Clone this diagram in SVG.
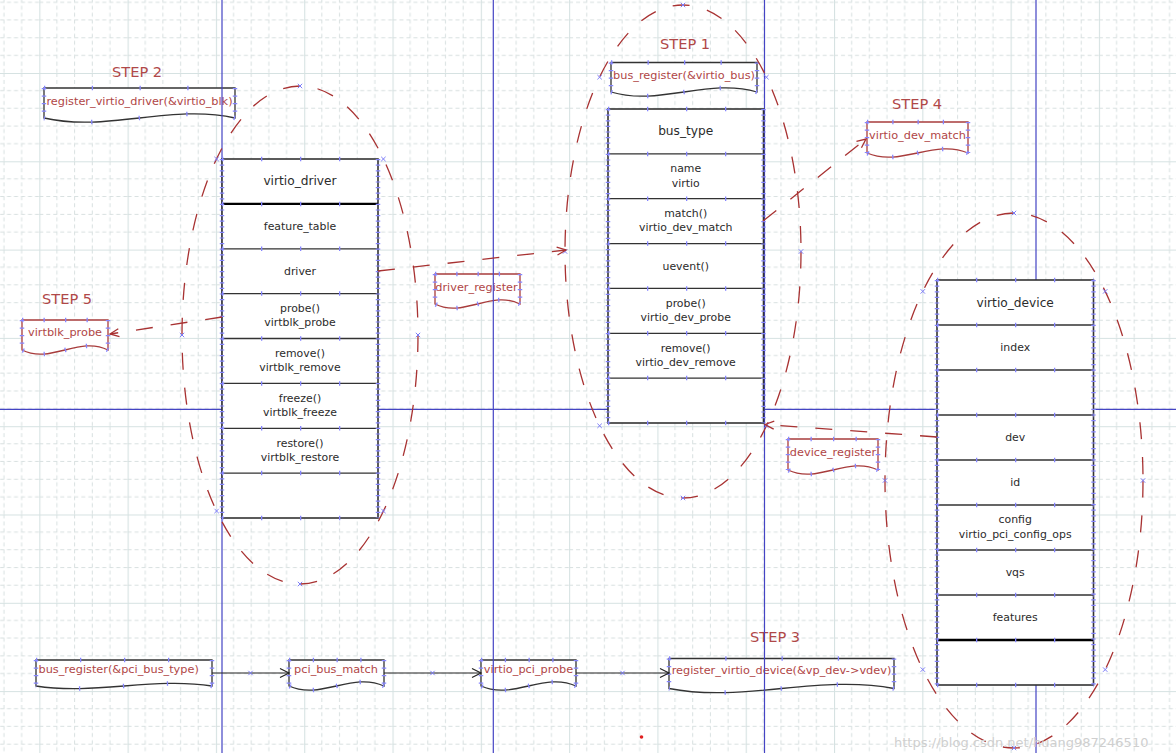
<svg xmlns="http://www.w3.org/2000/svg" width="1176" height="753" viewBox="0 0 1176 753">
<defs>
<pattern id="grid" patternUnits="userSpaceOnUse" x="39.3" y="73" width="88.3" height="88.3">
<path d="M17.66 0V88.3M35.32 0V88.3M52.98 0V88.3M70.64 0V88.3M0 17.66H88.3M0 35.32H88.3M0 52.98H88.3M0 70.64H88.3" stroke="#d8e0e0" stroke-width="1" stroke-dasharray="4 3" fill="none"/>
<path d="M0.5 0V88.3M0 0.5H88.3" stroke="#d6e2e2" stroke-width="1.2" fill="none"/>
</pattern>
<marker id="ak" markerUnits="userSpaceOnUse" markerWidth="11" markerHeight="11" viewBox="0 0 11 11" refX="10" refY="5.5" orient="auto" overflow="visible">
<path d="M1 1L10 5.5L1 10" fill="none" stroke="#222" stroke-width="1.2"/>
</marker>
<marker id="ar" markerUnits="userSpaceOnUse" markerWidth="11" markerHeight="11" viewBox="0 0 11 11" refX="10" refY="5.5" orient="auto" overflow="visible">
<path d="M1 1.5L10 5.5L1 9.5" fill="none" stroke="#a83232" stroke-width="1.3"/>
</marker>
<marker id="cx" markerUnits="userSpaceOnUse" markerWidth="6" markerHeight="6" viewBox="0 0 6 6" refX="3" refY="3" overflow="visible">
<path d="M0.8 0.8L5.2 5.2M5.2 0.8L0.8 5.2" stroke="#7c7cf8" stroke-width="1"/>
</marker>
</defs>
<style>
.t{font-family:"DejaVu Sans","Liberation Sans",sans-serif}
.hd{font-size:12.2px;fill:#2b2b2b;text-anchor:middle}
.bd{font-size:10.9px;fill:#2b2b2b;text-anchor:middle}
.dt{font-size:11.3px;fill:#b04646;text-anchor:middle}
.st{font-size:14.6px;fill:#b04848}
.wm{font-size:13px;fill:#cfcfcf}
.tb{fill:#fff;stroke:#333;stroke-width:1.6}
.sep{stroke:#333;stroke-width:1.3;fill:none}
.sepk{stroke:#000;stroke-width:2.4;fill:none}
.doc{fill:#fff;stroke:#333;stroke-width:1.3}
.docr{fill:#fff;stroke:#a83c3c;stroke-width:1.3}
.cps{stroke:#8686ff;stroke-width:4.5;stroke-dasharray:1.3 6.2;fill:none}
.cpt{stroke:#8686ff;stroke-width:4.5;fill:none}
.tside{stroke:#8686ff;stroke-width:4.5;stroke-dasharray:1.2 4.4;fill:none}
.trow{stroke:#8686ff;stroke-width:4.5;stroke-dasharray:1.3 37.7;fill:none}
.cpm{fill:none;stroke:none;marker-start:url(#cx);marker-mid:url(#cx);marker-end:url(#cx)}
.ell{fill:none;stroke:#a83232;stroke-width:1.3;stroke-dasharray:17 18}
.dcon{fill:none;stroke:#a83232;stroke-width:1.3;stroke-dasharray:17 18;marker-end:url(#ar)}
.scon{fill:none;stroke:#222;stroke-width:1.2;marker-mid:url(#cx);marker-end:url(#ak)}
.pb{stroke:#4444c4;stroke-width:1.2;fill:none}
</style>
<rect width="1176" height="753" fill="#fff"/>
<rect width="1176" height="753" fill="url(#grid)"/>

<g class="t st">
<text x="112" y="77">STEP 2</text>
<text x="660" y="49">STEP 1</text>
<text x="892" y="109">STEP 4</text>
<text x="42" y="304">STEP 5</text>
<text x="750" y="641.5">STEP 3</text>
</g>

<g id="register_virtio_driver">
<path class="doc" d="M44 88H235V118C171.3 103.5 107.7 132.5 44 118Z"/>
<text class="t dt" x="139.5" y="104.5">register_virtio_driver(&amp;virtio_blk)</text>
<path class="cpt" style="stroke-dasharray:1.3 46.45" d="M44 88H235M235 118C171.3 103.5 107.7 132.5 44 118"/>
<path class="cps" d="M44 88V118M235 88V118"/>
</g>
<g id="bus_register_virtio_bus">
<path class="doc" d="M611 62.5H757V92C708.3 77.5 659.7 106.5 611 92Z"/>
<text class="t dt" x="684" y="78.8">bus_register(&amp;virtio_bus)</text>
<path class="cpt" style="stroke-dasharray:1.3 35.2" d="M611 62.5H757M757 92C708.3 77.5 659.7 106.5 611 92"/>
<path class="cps" d="M611 62.5V92M757 62.5V92"/>
</g>
<g id="virtio_dev_match_box">
<path class="docr" d="M867 122H968V153C934.3 138.5 900.7 167.5 867 153Z"/>
<text class="t dt" x="917.5" y="138.5">virtio_dev_match</text>
<path class="cpt" style="stroke-dasharray:1.3 23.95" d="M867 122H968M968 153C934.3 138.5 900.7 167.5 867 153"/>
<path class="cps" d="M867 122V153M968 122V153"/>
</g>
<g id="driver_register">
<path class="docr" d="M435 274H520V304C491.7 289.5 463.3 318.5 435 304Z"/>
<text class="t dt" x="476.5" y="290.5">driver_register</text>
<path class="cpt" style="stroke-dasharray:1.3 19.95" d="M435 274H520M520 304C491.7 289.5 463.3 318.5 435 304"/>
<path class="cps" d="M435 274V304M520 274V304"/>
</g>
<g id="virtblk_probe_box">
<path class="docr" d="M22 320H108V350C79.3 335.5 50.7 364.5 22 350Z"/>
<text class="t dt" x="65" y="336">virtblk_probe</text>
<path class="cpt" style="stroke-dasharray:1.3 20.2" d="M22 320H108M108 350C79.3 335.5 50.7 364.5 22 350"/>
<path class="cps" d="M22 320V350M108 320V350"/>
</g>
<g id="device_register">
<path class="docr" d="M788 439H878V470C848 455.5 818 484.5 788 470Z"/>
<text class="t dt" x="833" y="455.5">device_register</text>
<path class="cpt" style="stroke-dasharray:1.3 21.2" d="M788 439H878M878 470C848 455.5 818 484.5 788 470"/>
<path class="cps" d="M788 439V470M878 439V470"/>
</g>
<g id="bus_register_pci">
<path class="doc" d="M36 660H212V686C153.3 677 94.7 695 36 686Z"/>
<text class="t dt" x="38.5" y="673" style="text-anchor:start">bus_register(&amp;pci_bus_type)</text>
<path class="cpt" style="stroke-dasharray:1.3 42.7" d="M36 660H212M212 686C153.3 677 94.7 695 36 686"/>
<path class="cps" d="M36 660V686M212 660V686"/>
</g>
<g id="pci_bus_match">
<path class="doc" d="M289 660H384V686C352.3 671.5 320.7 700.5 289 686Z"/>
<text class="t dt" x="336" y="673">pci_bus_match</text>
<path class="cpt" style="stroke-dasharray:1.3 22.45" d="M289 660H384M384 686C352.3 671.5 320.7 700.5 289 686"/>
<path class="cps" d="M289 660V686M384 660V686"/>
</g>
<g id="virtio_pci_probe">
<path class="doc" d="M481 660H576V686C544.3 671.5 512.7 700.5 481 686Z"/>
<text class="t dt" x="528.5" y="673">virtio_pci_probe</text>
<path class="cpt" style="stroke-dasharray:1.3 22.45" d="M481 660H576M576 686C544.3 671.5 512.7 700.5 481 686"/>
<path class="cps" d="M481 660V686M576 660V686"/>
</g>
<g id="register_virtio_device">
<path class="doc" d="M669 658.5H894V688.5C819 674 744 703 669 688.5Z"/>
<text class="t dt" x="781.5" y="673.5">register_virtio_device(&amp;vp_dev-&gt;vdev)</text>
<path class="cpt" style="stroke-dasharray:1.3 54.95" d="M669 658.5H894M894 688.5C819 674 744 703 669 688.5"/>
<path class="cps" d="M669 658.5V688.5M894 658.5V688.5"/>
</g>

<g id="page_breaks">
<path class="pb" d="M222 0V753M493.3 0V753M764.5 0V753M1036 0V753M0 409.3H1176"/>
</g>

<g id="virtio_driver">
<rect class="tb" x="222" y="159" width="156" height="359"/>
<path class="sep" d="M222 248.8H378M222 293.6H378M222 338.5H378M222 383.4H378M222 428.3H378M222 473.1H378"/>
<path class="sepk" d="M222 203.9H378"/>
<path class="trow" d="M222 159H378M222 203.9H378M222 248.8H378M222 293.6H378M222 338.5H378M222 383.4H378M222 428.3H378M222 473.1H378M222 518H378"/>
<path class="tside" d="M222 159V518M378 159V518"/>
<text class="t hd" x="300" y="185.4">virtio_driver</text>
<text class="t bd" x="300" y="230.1">feature_table</text>
<text class="t bd" x="300" y="275">driver</text>
<text class="t bd" x="300" y="312.2">probe()</text>
<text class="t bd" x="300" y="326.4">virtblk_probe</text>
<text class="t bd" x="300" y="357.1">remove()</text>
<text class="t bd" x="300" y="371.3">virtblk_remove</text>
<text class="t bd" x="300" y="402">freeze()</text>
<text class="t bd" x="300" y="416.1">virtblk_freeze</text>
<text class="t bd" x="300" y="446.8">restore()</text>
<text class="t bd" x="300" y="461">virtblk_restore</text>
</g>

<g id="bus_type">
<rect class="tb" x="608" y="109" width="155.5" height="314"/>
<path class="sep" d="M608 153.9H763.5M608 198.7H763.5M608 243.6H763.5M608 288.4H763.5M608 333.3H763.5M608 378.1H763.5"/>
<path class="trow" d="M608 109H763.5M608 153.9H763.5M608 198.7H763.5M608 243.6H763.5M608 288.4H763.5M608 333.3H763.5M608 378.1H763.5M608 423H763.5"/>
<path class="tside" d="M608 109V423M763.5 109V423"/>
<text class="t hd" x="685.7" y="135.4">bus_type</text>
<text class="t bd" x="685.7" y="172.3">name</text>
<text class="t bd" x="685.7" y="186.5">virtio</text>
<text class="t bd" x="685.7" y="217.2">match()</text>
<text class="t bd" x="685.7" y="231.4">virtio_dev_match</text>
<text class="t bd" x="685.7" y="269.8">uevent()</text>
<text class="t bd" x="685.7" y="307">probe()</text>
<text class="t bd" x="685.7" y="321.2">virtio_dev_probe</text>
<text class="t bd" x="685.7" y="351.8">remove()</text>
<text class="t bd" x="685.7" y="366">virtio_dev_remove</text>
</g>

<g id="virtio_device">
<rect class="tb" x="937" y="280" width="156.5" height="405"/>
<path class="sep" d="M937 325H1093.5M937 370H1093.5M937 415H1093.5M937 460H1093.5M937 505H1093.5M937 550H1093.5M937 595H1093.5"/>
<path class="sepk" d="M937 640H1093.5"/>
<path class="trow" d="M937 280H1093.5M937 325H1093.5M937 370H1093.5M937 415H1093.5M937 460H1093.5M937 505H1093.5M937 550H1093.5M937 595H1093.5M937 640H1093.5M937 685H1093.5"/>
<path class="tside" d="M937 280V685M1093.5 280V685"/>
<text class="t hd" x="1015.2" y="306.5">virtio_device</text>
<text class="t bd" x="1015.2" y="351.3">index</text>
<text class="t bd" x="1015.2" y="441.3">dev</text>
<text class="t bd" x="1015.2" y="486.3">id</text>
<text class="t bd" x="1015.2" y="523.4">config</text>
<text class="t bd" x="1015.2" y="537.6">virtio_pci_config_ops</text>
<text class="t bd" x="1015.2" y="576.3">vqs</text>
<text class="t bd" x="1015.2" y="621.3">features</text>
</g>

<g id="ellipse_driver">
<ellipse class="ell" cx="300" cy="335" rx="118" ry="249"/>
<polyline class="cpm" points="300,86 383.4,159 418,335 383.4,511 300,584 216.6,511 182,335 216.6,159"/>
</g>
<g id="ellipse_bus">
<ellipse class="ell" cx="683" cy="251.5" rx="118" ry="246.5"/>
<polyline class="cpm" points="683,5 766.4,77.2 801,251.5 766.4,425.8 683,498 599.6,425.8 565,251.5 599.6,77.2"/>
</g>
<g id="ellipse_device">
<ellipse class="ell" cx="1014" cy="480.5" rx="129" ry="267.5"/>
<polyline class="cpm" points="1014,213 1105.2,291.4 1143,480.5 1105.2,669.6 1014,748 922.8,669.6 885,480.5 922.8,291.4"/>
</g>

<g id="connectors">
<path class="scon" d="M212 673H250.5H289"/>
<path class="scon" d="M384 673H432.5H481"/>
<path class="scon" d="M576 673H622.5H669"/>
<path class="dcon" d="M378 271L566 250"/>
<path class="dcon" d="M222 317L110 334"/>
<path class="dcon" d="M763 221L866 139"/>
<path class="dcon" d="M937 437L765 424.5"/>
</g>

<circle cx="641.5" cy="737" r="1.8" fill="#e02020"/>
<text class="t wm" x="894" y="747">https://blog.csdn.net/huang987246510</text>
</svg>
